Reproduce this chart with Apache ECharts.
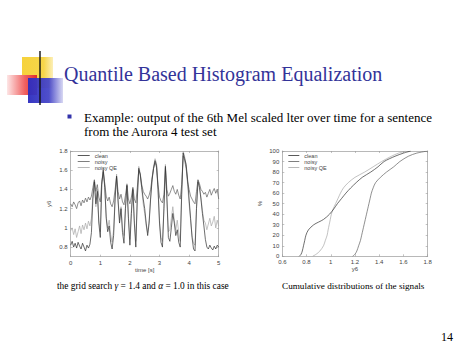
<!DOCTYPE html>
<html>
<head>
<meta charset="utf-8">
<script src="https://cdn.jsdelivr.net/npm/echarts@6.0.0/dist/echarts.min.js"></script>
<style>
html,body{margin:0;padding:0;background:#fff;}
#c{width:474px;height:355px;}
</style>
</head>
<body>
<div id="c"></div>
<script>
// ---------- data: left chart (time series of 6th Mel filter output) ----------
const seriesNames = ['clean', 'noisy', 'noisy QE'];
const times = [0,0.05,0.1,0.15,0.2,0.25,0.3,0.35,0.4,0.45,0.5,0.55,0.6,0.65,0.7,0.75,0.8,0.85,0.9,0.95,
  1,1.05,1.1,1.15,1.2,1.25,1.3,1.35,1.4,1.45,1.5,1.55,1.6,1.65,1.7,1.75,1.8,1.85,1.9,1.95,
  2,2.05,2.1,2.15,2.2,2.25,2.3,2.35,2.4,2.45,2.5,2.55,2.6,2.65,2.7,2.75,2.8,2.85,2.9,2.95,
  3,3.05,3.1,3.15,3.2,3.25,3.3,3.35,3.4,3.45,3.5,3.55,3.6,3.65,3.7,3.75,3.8,3.85,3.9,3.95,
  4,4.05,4.1,4.15,4.2,4.25,4.3,4.35,4.4,4.45,4.5,4.55,4.6,4.65,4.7,4.75,4.8,4.85,4.9,4.95,5];
const cleanSignal = [0.82,0.86,0.80,0.84,0.79,0.85,0.81,0.78,0.84,0.80,0.76,0.82,0.79,0.83,0.95,1.30,1.48,1.25,1.38,1.05,
  0.90,1.45,1.60,1.42,1.10,0.96,1.02,0.85,0.78,0.92,1.30,1.54,1.28,1.05,1.20,0.95,0.84,1.20,1.44,1.10,
  0.82,1.15,1.40,1.05,0.80,1.30,1.62,1.55,1.42,1.30,1.20,1.05,0.92,1.05,1.30,1.50,1.62,1.70,1.65,1.40,
  1.05,0.85,0.80,1.20,1.64,1.30,0.90,0.86,1.00,1.15,1.05,0.92,0.98,0.85,0.80,1.35,1.78,1.72,1.66,1.50,
  1.30,1.10,0.90,0.78,0.76,1.20,1.48,1.42,1.30,1.15,1.02,0.88,0.80,0.78,0.82,0.79,0.77,0.81,0.78,0.82,0.80];
const noisySignal = [1.25,1.22,1.27,1.24,1.20,1.26,1.28,1.23,1.29,1.26,1.31,1.27,1.32,1.29,1.33,1.42,1.50,1.38,1.45,1.32,
  1.27,1.48,1.58,1.46,1.33,1.28,1.32,1.25,1.22,1.28,1.40,1.53,1.38,1.30,1.35,1.27,1.24,1.34,1.45,1.30,
  1.25,1.32,1.42,1.30,1.26,1.42,1.60,1.56,1.45,1.38,1.35,1.33,1.30,1.34,1.40,1.52,1.62,1.68,1.63,1.45,
  1.32,1.28,1.26,1.35,1.62,1.40,1.33,1.36,1.40,1.44,1.38,1.35,1.40,1.34,1.30,1.45,1.75,1.70,1.62,1.48,
  1.40,1.33,1.30,1.27,1.25,1.38,1.50,1.46,1.40,1.38,1.35,1.37,1.32,1.36,1.40,1.34,1.38,1.41,1.36,1.40,1.30];
const noisyQESignal = [0.97,1.00,0.93,0.99,0.90,0.96,1.02,0.94,1.03,0.98,1.05,0.99,1.07,1.02,1.10,1.35,1.50,1.22,1.40,1.08,
  0.96,1.47,1.62,1.45,1.12,1.00,1.08,0.93,0.85,0.98,1.32,1.56,1.30,1.08,1.22,1.00,0.92,1.22,1.46,1.12,
  0.88,1.18,1.42,1.08,0.86,1.32,1.64,1.57,1.40,1.25,1.15,1.02,0.95,1.08,1.32,1.52,1.64,1.72,1.67,1.42,
  1.08,0.90,0.86,1.22,1.66,1.32,0.96,0.98,1.10,1.22,1.08,0.98,1.08,0.95,0.86,1.38,1.80,1.74,1.65,1.45,
  1.25,1.08,0.92,0.84,0.82,1.22,1.50,1.44,1.32,1.18,1.08,1.05,0.98,1.04,1.10,1.02,1.06,1.12,1.00,1.08,1.02];
const leftYTicks = [0.8, 1, 1.2, 1.4, 1.6, 1.8];

// ---------- data: right chart (cumulative distributions) ----------
const cdfPercent = [0,2,5,10,15,20,25,30,35,40,45,50,55,60,65,70,75,80,85,90,95,98,100];
const cleanCdfX   = [0.74,0.755,0.765,0.775,0.785,0.795,0.815,0.86,0.94,0.99,1.025,1.055,1.09,1.125,1.165,1.21,1.26,1.33,1.39,1.44,1.53,1.60,1.66];
const noisyCdfX   = [1.18,1.20,1.215,1.23,1.245,1.255,1.265,1.275,1.285,1.295,1.305,1.315,1.325,1.335,1.35,1.37,1.41,1.46,1.52,1.57,1.64,1.71,1.80];
const noisyQECdfX = [0.85,0.88,0.91,0.94,0.955,0.97,0.978,0.987,0.996,1.005,1.02,1.04,1.06,1.08,1.105,1.145,1.20,1.28,1.35,1.42,1.50,1.56,1.62];

// ---------- texts ----------
const titleText = 'Quantile Based Histogram Equalization';
const bulletLines = ['Example: output of the 6th Mel scaled lter over time for a sentence', 'from the Aurora 4 test set'];
const captionRight = 'Cumulative distributions of the signals';
const pageNumber = '14';

const lineColors = {'clean': '#303030', 'noisy': '#606060', 'noisy QE': '#a8a8a8'};

function zip(xs, ys) { return xs.map((x, i) => [x, ys[i]]); }

const frameColor = '#9a9a9a';
const lblStyle = {fontSize: 6, color: '#444', fontFamily: 'Liberation Sans'};
function axisCommon(extra) {
  return Object.assign({
    type: 'value',
    axisLine: {show: true, onZero: false, lineStyle: {color: frameColor, width: 0.7}},
    axisTick: {show: true, inside: true, length: 2, lineStyle: {color: frameColor, width: 0.6}},
    splitLine: {show: false},
    axisLabel: Object.assign({margin: 3}, lblStyle),
    nameTextStyle: lblStyle
  }, extra);
}

const chart = echarts.init(document.getElementById('c'), null, {renderer: 'svg', width: 474, height: 355});

const serif = 'Liberation Serif, Times New Roman, serif';
const legendText = {fontSize: 5.5, color: '#444', fontFamily: 'Liberation Sans', lineHeight: 5};

const option = {
  animation: false,
  backgroundColor: '#ffffff',
  grid: [
    {left: 70.7, top: 151, width: 148, height: 105.7},
    {left: 282.3, top: 151, width: 145.4, height: 105.3}
  ],
  legend: [
    {data: seriesNames, orient: 'vertical', left: 77.7, top: 152.5, itemWidth: 12, itemHeight: 0.8, itemGap: 0,
     padding: 0, textStyle: legendText, icon: 'rect', selectedMode: false},
    {data: seriesNames, orient: 'vertical', left: 288.3, top: 152.5, itemWidth: 11, itemHeight: 0.8, itemGap: 0,
     padding: 0, textStyle: legendText, icon: 'rect', selectedMode: false}
  ],
  xAxis: [
    axisCommon({gridIndex: 0, position: 'bottom', min: 0, max: 5, interval: 1, name: 'time [s]', nameLocation: 'middle', nameGap: 9}),
    axisCommon({gridIndex: 0, position: 'top', min: 0, max: 5, interval: 1, axisLabel: {show: false}}),
    axisCommon({gridIndex: 1, position: 'bottom', min: 0.6, max: 1.8, interval: 0.2, name: 'y6', nameLocation: 'middle', nameGap: 10}),
    axisCommon({gridIndex: 1, position: 'top', min: 0.6, max: 1.8, interval: 0.2, axisLabel: {show: false}})
  ],
  yAxis: [
    axisCommon({gridIndex: 0, position: 'left', min: 0.7, max: 1.8, name: 'y6', nameLocation: 'middle', nameGap: 19,
      axisLabel: Object.assign({margin: 3, customValues: leftYTicks}, lblStyle),
      axisTick: {show: true, inside: true, length: 2, customValues: leftYTicks, lineStyle: {color: frameColor, width: 0.6}}}),
    axisCommon({gridIndex: 0, position: 'right', min: 0.7, max: 1.8, axisLabel: {show: false},
      axisTick: {show: true, inside: true, length: 2, customValues: leftYTicks, lineStyle: {color: frameColor, width: 0.6}}}),
    axisCommon({gridIndex: 1, position: 'left', min: 0, max: 100, interval: 10, name: '%', nameLocation: 'middle', nameGap: 19}),
    axisCommon({gridIndex: 1, position: 'right', min: 0, max: 100, interval: 10, axisLabel: {show: false}})
  ],
  series: [
    {name: 'noisy QE', type: 'line', xAxisIndex: 0, yAxisIndex: 0, data: zip(times, noisyQESignal)},
    {name: 'noisy', type: 'line', xAxisIndex: 0, yAxisIndex: 0, data: zip(times, noisySignal)},
    {name: 'clean', type: 'line', xAxisIndex: 0, yAxisIndex: 0, data: zip(times, cleanSignal)},
    {name: 'noisy QE', type: 'line', xAxisIndex: 2, yAxisIndex: 2, smooth: 0.3, data: zip(noisyQECdfX, cdfPercent)},
    {name: 'noisy', type: 'line', xAxisIndex: 2, yAxisIndex: 2, smooth: 0.3, data: zip(noisyCdfX, cdfPercent)},
    {name: 'clean', type: 'line', xAxisIndex: 2, yAxisIndex: 2, smooth: 0.3, data: zip(cleanCdfX, cdfPercent)}
  ].map(s => Object.assign(s, {
    symbol: 'none', showSymbol: false, silent: true,
    lineStyle: {color: lineColors[s.name], width: 0.7},
    itemStyle: {color: lineColors[s.name]}
  })),
  graphic: [
    // decorative squares
    {type: 'rect', shape: {x: 22, y: 57, width: 31, height: 31}, style: {fill: {type: 'linear', x: 0, y: 0, x2: 1, y2: 0,
      colorStops: [{offset: 0, color: '#f6d23c'}, {offset: 0.7, color: '#f7d64a'}, {offset: 1, color: '#fcefb8'}]}}},
    {type: 'rect', shape: {x: 7, y: 75, width: 30, height: 20}, style: {fill: {type: 'linear', x: 0, y: 0, x2: 1, y2: 0,
      colorStops: [{offset: 0, color: '#fde6e6'}, {offset: 0.6, color: '#f06060'}, {offset: 1, color: '#e02a2a'}]}}},
    {type: 'rect', shape: {x: 28, y: 78, width: 35, height: 25}, style: {fill: {type: 'linear', x: 0, y: 0, x2: 1, y2: 0,
      colorStops: [{offset: 0, color: '#2b2bbf'}, {offset: 0.6, color: '#4646c8'}, {offset: 1, color: '#d6d6f2'}]}, opacity: 0.95}},
    {type: 'line', shape: {x1: 40, y1: 51, x2: 40, y2: 105}, style: {stroke: '#111', lineWidth: 1.4}},
    {type: 'line', shape: {x1: 23, y1: 92.7, x2: 430, y2: 92.7}, style: {lineWidth: 1.3, stroke: {type: 'linear', x: 0, y: 0, x2: 1, y2: 0, global: false,
      colorStops: [{offset: 0, color: '#111'}, {offset: 0.1, color: '#555'}, {offset: 0.5, color: '#999'}, {offset: 1, color: 'rgba(255,255,255,0)'}]}}},
    // title
    {type: 'text', x: 64, y: 74, style: {text: titleText, font: '20px ' + serif, fill: '#333399', verticalAlign: 'middle'}},
    // bullet
    {type: 'rect', shape: {x: 67.5, y: 114.5, width: 4, height: 4}, style: {fill: '#3333aa'}},
    {type: 'text', x: 84, y: 117, style: {text: bulletLines[0], font: '13px ' + serif, fill: '#000', verticalAlign: 'middle'}},
    {type: 'text', x: 84, y: 131.6, style: {text: bulletLines[1], font: '13px ' + serif, fill: '#000', verticalAlign: 'middle'}},
    // captions
    {type: 'text', x: 57, y: 285.5, style: {
      text: '{n|the grid search }{i|γ}{n| = 1.4 and }{i|α}{n| = 1.0 in this case}',
      verticalAlign: 'middle',
      rich: {n: {font: '9.4px ' + serif, fill: '#000'}, i: {font: 'italic 9.4px ' + serif, fill: '#000'}}}},
    {type: 'text', x: 282, y: 285.5, style: {text: captionRight, font: '9.2px ' + serif, fill: '#000', verticalAlign: 'middle'}},
    // page number
    {type: 'text', x: 441, y: 337, style: {text: pageNumber, font: '12px ' + serif, fill: '#000', verticalAlign: 'middle'}}
  ]
};
chart.setOption(option);
</script>
</body>
</html>
